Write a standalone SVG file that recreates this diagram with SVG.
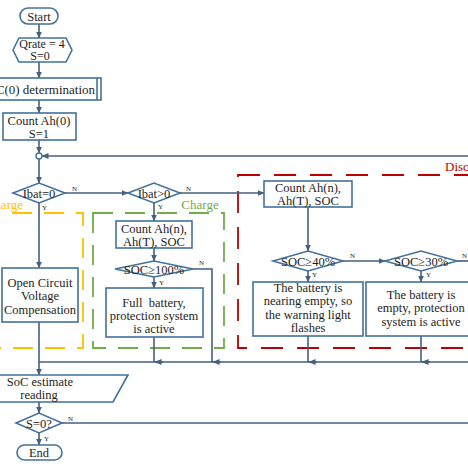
<svg xmlns="http://www.w3.org/2000/svg" width="468" height="468" viewBox="0 0 468 468">
<defs>
<style>
.box{fill:#fff;stroke:#41719c;stroke-width:1.6}
.ln{fill:none;stroke:#44607e;stroke-width:1.6}
.t{font-family:"Liberation Serif","DejaVu Serif",serif;font-size:12.5px;fill:#1e1e1e;text-anchor:middle}
.yn{font-family:"Liberation Serif",serif;font-size:7px;fill:#1e1e1e}
.dy{fill:none;stroke:#ffc000;stroke-width:1.8;stroke-dasharray:20,12}
.dg{fill:none;stroke:#70ad47;stroke-width:1.8;stroke-dasharray:20,12}
.dr{fill:none;stroke:#c00000;stroke-width:1.8;stroke-dasharray:22,14}
</style>
<marker id="ar" markerWidth="7" markerHeight="6" refX="6.5" refY="3" orient="auto" markerUnits="userSpaceOnUse">
<path d="M0,0 L7,3 L0,6 z" fill="#44607e"/>
</marker>
</defs>

<g id="regions">
<rect class="dy" x="-20" y="213" width="103" height="135"/>
<text x="23" y="209" style="font-family:'Liberation Serif',serif;font-size:13px;fill:#ffc000;text-anchor:end">Discharge</text>
<rect class="dg" x="93" y="213" width="131" height="135"/>
<text x="200" y="209" style="font-family:'Liberation Serif',serif;font-size:13px;fill:#70ad47;text-anchor:middle">Charge</text>
<rect class="dr" x="238" y="175" width="260" height="173"/>
<text x="445" y="171" style="font-family:'Liberation Serif',serif;font-size:13px;fill:#c00000">Discharge</text>
</g>

<g id="connectors">
<line class="ln" x1="39" y1="24" x2="39" y2="38" marker-end="url(#ar)"/>
<line class="ln" x1="39" y1="62" x2="39" y2="78" marker-end="url(#ar)"/>
<line class="ln" x1="39" y1="100" x2="39" y2="113" marker-end="url(#ar)"/>
<line class="ln" x1="39" y1="140" x2="39" y2="153" marker-end="url(#ar)"/>
<line class="ln" x1="470" y1="156" x2="42" y2="156" marker-end="url(#ar)"/>
<line class="ln" x1="39" y1="159" x2="39" y2="183" marker-end="url(#ar)"/>
<line class="ln" x1="65" y1="193" x2="128" y2="193" marker-end="url(#ar)"/>
<line class="ln" x1="180" y1="193" x2="264" y2="193" marker-end="url(#ar)"/>
<line class="ln" x1="39" y1="203" x2="39" y2="268" marker-end="url(#ar)"/>
<line class="ln" x1="154" y1="203" x2="154" y2="221" marker-end="url(#ar)"/>
<line class="ln" x1="154" y1="248" x2="154" y2="261" marker-end="url(#ar)"/>
<line class="ln" x1="154" y1="277" x2="154" y2="288" marker-end="url(#ar)"/>
<polyline class="ln" points="193,269 212,269 212,362"/>
<line class="ln" x1="154" y1="337" x2="154" y2="362"/>
<line class="ln" x1="308" y1="207" x2="308" y2="251" marker-end="url(#ar)"/>
<line class="ln" x1="343" y1="261" x2="385" y2="261" marker-end="url(#ar)"/>
<line class="ln" x1="457" y1="261" x2="470" y2="261"/>
<line class="ln" x1="308" y1="271" x2="308" y2="282" marker-end="url(#ar)"/>
<line class="ln" x1="421" y1="271" x2="421" y2="282" marker-end="url(#ar)"/>
<line class="ln" x1="308" y1="336" x2="308" y2="362"/>
<line class="ln" x1="421" y1="336" x2="421" y2="362"/>
<line class="ln" x1="470" y1="362" x2="39" y2="362"/>
<line class="ln" x1="430" y1="362" x2="422" y2="362" marker-end="url(#ar)"/>
<line class="ln" x1="317" y1="362" x2="309" y2="362" marker-end="url(#ar)"/>
<line class="ln" x1="221" y1="362" x2="213" y2="362" marker-end="url(#ar)"/>
<line class="ln" x1="163" y1="362" x2="155" y2="362" marker-end="url(#ar)"/>
<line class="ln" x1="39" y1="322" x2="39" y2="375" marker-end="url(#ar)"/>
<line class="ln" x1="39" y1="402" x2="39" y2="413" marker-end="url(#ar)"/>
<line class="ln" x1="62" y1="423" x2="470" y2="423"/>
<line class="ln" x1="39" y1="433" x2="39" y2="445" marker-end="url(#ar)"/>
<text class="yn" x="72" y="191">N</text>
<text class="yn" x="42" y="210">Y</text>
<text class="yn" x="186" y="191">N</text>
<text class="yn" x="158" y="209">Y</text>
<text class="yn" x="199" y="265">N</text>
<text class="yn" x="159" y="285">Y</text>
<text class="yn" x="350" y="258">N</text>
<text class="yn" x="312" y="277">Y</text>
<text class="yn" x="462" y="258">N</text>
<text class="yn" x="426" y="277">Y</text>
<text class="yn" x="68" y="421">N</text>
<text class="yn" x="44" y="441">Y</text>
</g>

<g id="start">
<rect class="box" x="20" y="8" width="38" height="16" rx="8"/>
<text class="t" x="39" y="20.5">Start</text>
</g>
<g id="init">
<polygon class="box" points="13,50 19,38 66,38 72,50 66,62 19,62"/>
<text class="t" x="42" y="47.5" style="font-size:12px">Qrate = 4</text>
<text class="t" x="40" y="60" style="font-size:12px">S=0</text>
</g>
<g id="soc0">
<rect class="box" x="-10" y="78" width="111" height="22"/>
<line class="box" x1="97" y1="78" x2="97" y2="100"/>
<text class="t" x="95" y="93.5" style="text-anchor:end;font-size:13px">SoC(0) determination</text>
</g>
<g id="countah0">
<rect class="box" x="3" y="113" width="73" height="27"/>
<text class="t" x="39" y="125">Count Ah(0)</text>
<text class="t" x="39" y="138">S=1</text>
</g>
<g id="junction">
<circle cx="39" cy="156" r="3" fill="#fff" stroke="#41719c" stroke-width="1.4"/>
</g>
<g id="ibat0">
<polygon class="box" points="13,193 39,183 65,193 39,203"/>
<text class="t" x="39" y="197.5">Ibat=0</text>
</g>
<g id="ibatpos">
<polygon class="box" points="128,193 154,183 180,193 154,203"/>
<text class="t" x="154" y="197.5">Ibat&gt;0</text>
</g>
<g id="ocv">
<rect class="box" x="2" y="268" width="76" height="54"/>
<text class="t" x="40" y="287">Open Circuit</text>
<text class="t" x="40" y="300">Voltage</text>
<text class="t" x="40" y="314">Compensation</text>
</g>
<g id="countc">
<rect class="box" x="116" y="221" width="76" height="27"/>
<text class="t" x="154" y="233">Count Ah(n),</text>
<text class="t" x="154" y="246">Ah(T), SOC</text>
</g>
<g id="soc100">
<polygon class="box" points="115,269 154,261 193,269 154,277"/>
<text class="t" x="154" y="273.5">SOC≥100%</text>
</g>
<g id="full">
<rect class="box" x="106" y="288" width="97" height="49"/>
<text class="t" x="154" y="307" xml:space="preserve">Full  battery,</text>
<text class="t" x="154" y="320">protection system</text>
<text class="t" x="154" y="333">is active</text>
</g>
<g id="countd">
<rect class="box" x="264" y="181" width="88" height="26"/>
<text class="t" x="308" y="192">Count Ah(n),</text>
<text class="t" x="308" y="205">Ah(T), SOC</text>
</g>
<g id="soc40">
<polygon class="box" points="273,261 308,251 343,261 308,271"/>
<text class="t" x="308" y="265.5">SOC≥40%</text>
</g>
<g id="soc30">
<polygon class="box" points="385,261 421,251 457,261 421,271"/>
<text class="t" x="421" y="265.5">SOC≥30%</text>
</g>
<g id="nearing">
<rect class="box" x="253" y="282" width="110" height="54"/>
<text class="t" x="308" y="292">The battery is</text>
<text class="t" x="308" y="305">nearing empty, so</text>
<text class="t" x="308" y="319">the warning light</text>
<text class="t" x="308" y="332">flashes</text>
</g>
<g id="empty">
<rect class="box" x="366" y="282" width="110" height="54"/>
<text class="t" x="421" y="299">The battery is</text>
<text class="t" x="421" y="312">empty, protection</text>
<text class="t" x="421" y="326">system is active</text>
</g>
<g id="reading">
<polygon class="box" points="-10,375 128,375 113,402 -25,402"/>
<text class="t" x="40" y="386">SoC estimate</text>
<text class="t" x="39" y="399">reading</text>
</g>
<g id="s0">
<polygon class="box" points="16,423 39,413 62,423 39,433"/>
<text class="t" x="39" y="427.5">S=0?</text>
</g>
<g id="end">
<rect class="box" x="17" y="445" width="45" height="15" rx="7.5"/>
<text class="t" x="39" y="457">End</text>
</g>
</svg>
